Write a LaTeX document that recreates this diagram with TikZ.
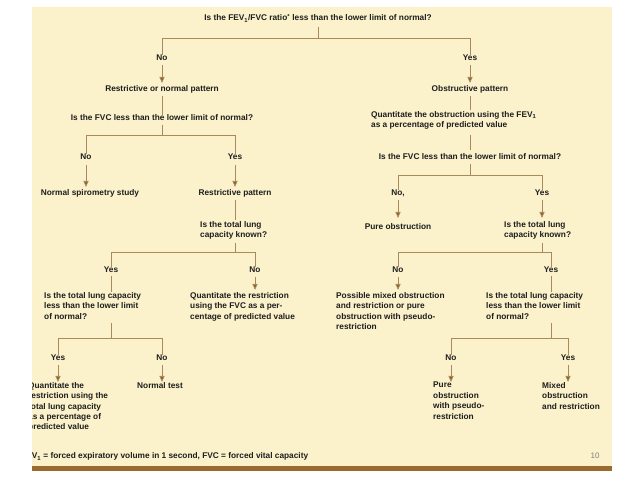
\documentclass[tikz,border=0pt]{standalone}
\usepackage{fontspec}
\setmainfont{Liberation Sans}
\usetikzlibrary{arrows.meta}
\definecolor{bg}{HTML}{FBF1CB}
\definecolor{ln}{HTML}{A88A5C}
\definecolor{ah}{HTML}{8B5E2B}
\definecolor{tx}{HTML}{1E1E1E}
\definecolor{bar}{HTML}{9A6A2E}
\tikzset{
  t/.style={font=\fontsize{8.3}{10.4}\selectfont\bfseries, text=tx, inner sep=0pt, anchor=base},
  tl/.style={t, anchor=north west, align=left},
  conn/.style={draw=ln, line width=0.8pt},
  arr/.style={conn, -{Triangle[width=5pt,length=6pt,fill=ah]}, shorten >=1pt},
}
\begin{document}
\begin{tikzpicture}[x=1pt,y=-1pt]
\useasboundingbox (0,0) rectangle (638,478);
\fill[white] (0,0) rectangle (638,478);
\begin{scope}
\clip (32,7) rectangle (612,472);
\fill[bg] (32,7) rectangle (612,467);
\fill[bar] (32,466) rectangle (612,471);
% top
\node[t] (q1) at (318,21) {Is the FEV\textsubscript{1}/FVC ratio\textsuperscript{*} less than the lower limit of normal?};
\coordinate (j1) at (318,38);
\coordinate (j1l) at (162,38);
\coordinate (j1r) at (470,38);
\node[t] (no1) at (162,61) {No};
\node[t] (yes1) at (470,61) {Yes};
\node[t] (rn) at (162,92) {Restrictive or normal pattern};
\node[t] (ob) at (470,92) {Obstructive pattern};
\draw[conn] (318,27) -- (j1);
\draw[conn] (j1l) -- (j1r);
\draw[conn] (j1l) -- (no1.north);
\draw[conn] (j1r) -- (yes1.north);
\draw[arr] (162,65) -- (162,84);
\draw[arr] (470,65) -- (470,84);
% left FVC
\node[t] (q2) at (162,121) {Is the FVC less than the lower limit of normal?};
\draw[conn] (162,96) -- (q2.north);
\coordinate (j2) at (162,135);
\draw[conn] (162,125) -- (j2);
\draw[conn] (86,135) -- (235,135);
\node[t] (no2) at (86,160) {No};
\node[t] (yes2) at (235,160) {Yes};
\draw[conn] (86,135) -- (no2.north);
\draw[conn] (235,135) -- (yes2.north);
\node[t] (nss) at (90,196) {Normal spirometry study};
\node[t] (rp) at (235,196) {Restrictive pattern};
\draw[arr] (86,165) -- (86,188);
\draw[arr] (235,165) -- (235,188);
\node[tl] (tlc1) at (200,221) {Is the total lung\\capacity known?};
\draw[conn] (235,200) -- (235,220);
\draw[conn] (235,243) -- (235,252);
\draw[conn] (111,252) -- (255,252);
\node[t] (yes3) at (111,273) {Yes};
\node[t] (no3) at (255,273) {No};
\draw[conn] (111,252) -- (yes3.north);
\draw[conn] (255,252) -- (no3.north);
\node[tl] (tlc2) at (44,292) {Is the total lung capacity\\less than the lower limit\\of normal?};
\node[tl] (qr) at (190,292) {Quantitate the restriction\\using the FVC as a per-\\centage of predicted value};
\draw[conn] (111,276) -- (111,292);
\draw[arr] (255,277) -- (255,291);
\draw[conn] (111,323) -- (111,338);
\draw[conn] (58,338) -- (162,338);
\node[t] (yes4) at (58,361) {Yes};
\node[t] (no4) at (162,361) {No};
\draw[conn] (58,338) -- (yes4.north);
\draw[conn] (162,338) -- (no4.north);
\draw[arr] (58,365) -- (58,383);
\draw[arr] (162,365) -- (162,383);
\node[tl] (qt) at (28,382) {Quantitate the\\restriction using the\\total lung capacity\\as a percentage of\\predicted value};
\node[tl] (nt) at (137,382) {Normal test};
% right
\node[tl] (qo) at (371,111) {Quantitate the obstruction using the FEV\textsubscript{1}\\as a percentage of predicted value};
\draw[conn] (470,96) -- (470,110);
\draw[conn] (470,135) -- (470,150);
\node[t] (q3) at (470,160) {Is the FVC less than the lower limit of normal?};
\draw[conn] (470,164) -- (470,175);
\draw[conn] (398,175) -- (542,175);
\node[t] (no5) at (398,196) {No,};
\node[t] (yes5) at (542,196) {Yes};
\draw[conn] (398,175) -- (no5.north);
\draw[conn] (542,175) -- (yes5.north);
\draw[arr] (398,200) -- (398,219);
\draw[arr] (542,200) -- (542,219);
\node[t] (po) at (398,230) {Pure obstruction};
\node[tl] (tlc3) at (504,221) {Is the total lung\\capacity known?};
\draw[conn] (542,243) -- (542,252);
\draw[conn] (398,252) -- (551,252);
\node[t] (no6) at (398,273) {No};
\node[t] (yes6) at (551,273) {Yes};
\draw[conn] (398,252) -- (no6.north);
\draw[conn] (551,252) -- (yes6.north);
\draw[arr] (398,277) -- (398,291);
\draw[conn] (551,276) -- (551,292);
\node[tl] (pm) at (336,292) {Possible mixed obstruction\\and restriction or pure\\obstruction with pseudo-\\restriction};
\node[tl] (tlc4) at (486,292) {Is the total lung capacity\\less than the lower limit\\of normal?};
\draw[conn] (551,323) -- (551,338);
\draw[conn] (451,338) -- (568,338);
\node[t] (no7) at (451,361) {No};
\node[t] (yes7) at (568,361) {Yes};
\draw[conn] (451,338) -- (no7.north);
\draw[conn] (568,338) -- (yes7.north);
\draw[arr] (451,365) -- (451,383);
\draw[arr] (568,365) -- (568,383);
\node[tl] (pop) at (433,382) {Pure\\obstruction\\with pseudo-\\restriction};
\node[tl] (mor) at (542,382) {Mixed\\obstruction\\and restriction};
% footnote
\node[t, anchor=base west] (fn) at (21,459) {FEV\textsubscript{1} = forced expiratory volume in 1 second, FVC = forced vital capacity};
\node[t, anchor=base, font=\fontsize{8}{9}\selectfont, text=gray] (pg) at (595,459) {10};
\end{scope}
\end{tikzpicture}
\end{document}
